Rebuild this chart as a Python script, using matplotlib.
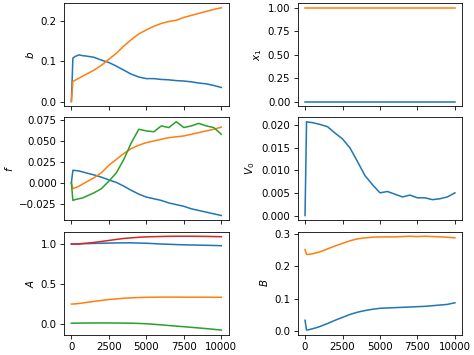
import matplotlib
matplotlib.use("Agg")
import matplotlib.pyplot as plt
from matplotlib.ticker import MaxNLocator
import numpy as np

# step axis
t = [0, 100, 250, 500, 750, 1000, 1500, 2000, 2500, 3000, 3500, 4000, 4500, 5000,
     5500, 6000, 6500, 7000, 7500, 8000, 8500, 9000, 9500, 10000]

# b
b0 = [0.0, 0.108, 0.112, 0.116, 0.114, 0.113, 0.110, 0.103, 0.097, 0.088, 0.078, 0.068, 0.061,
      0.057, 0.057, 0.055, 0.054, 0.052, 0.051, 0.049, 0.046, 0.044, 0.040, 0.035]
b1 = [0.0, 0.050, 0.053, 0.058, 0.063, 0.068, 0.078, 0.090, 0.105, 0.120, 0.138, 0.154, 0.168,
      0.178, 0.187, 0.194, 0.199, 0.202, 0.209, 0.214, 0.219, 0.224, 0.229, 0.233]

# f
f0 = [0.0, 0.015, 0.0148, 0.0142, 0.013, 0.0118, 0.0095, 0.0068, 0.0035, 0.0005, -0.004, -0.009,
      -0.0135, -0.017, -0.019, -0.021, -0.024, -0.026, -0.028, -0.031, -0.033, -0.035, -0.037, -0.039]
f1 = [0.0, -0.007, -0.006, -0.004, -0.0015, 0.001, 0.006, 0.012, 0.021, 0.028, 0.035, 0.041,
      0.045, 0.048, 0.050, 0.052, 0.054, 0.055, 0.056, 0.058, 0.060, 0.062, 0.064, 0.0665]
f2 = [0.0, -0.021, -0.020, -0.019, -0.018, -0.016, -0.012, -0.007, 0.002, 0.012, 0.028, 0.048,
      0.064, 0.062, 0.061, 0.068, 0.066, 0.073, 0.066, 0.068, 0.071, 0.068, 0.066, 0.058]

# A
A0 = [1.0, 1.0, 1.0, 1.0, 1.005, 1.005, 1.008, 1.01, 1.012, 1.014, 1.015, 1.015, 1.012, 1.01,
      1.005, 1.0, 0.997, 0.993, 0.99, 0.988, 0.986, 0.984, 0.982, 0.979]
A1 = [0.245, 0.245, 0.247, 0.252, 0.258, 0.265, 0.278, 0.29, 0.302, 0.31, 0.318, 0.323, 0.327,
      0.33, 0.331, 0.332, 0.332, 0.332, 0.331, 0.331, 0.331, 0.331, 0.330, 0.330]
A2 = [0.004, 0.004, 0.005, 0.005, 0.006, 0.006, 0.007, 0.007, 0.007, 0.006, 0.005, 0.004, 0.001,
      -0.003, -0.01, -0.017, -0.025, -0.033, -0.04, -0.048, -0.056, -0.064, -0.073, -0.082]
A3 = [1.0, 1.0, 1.0, 1.002, 1.006, 1.01, 1.02, 1.032, 1.045, 1.058, 1.07, 1.078, 1.085, 1.09,
      1.093, 1.095, 1.097, 1.098, 1.098, 1.098, 1.097, 1.096, 1.094, 1.092]

# x_1
x1_0 = [0.0] * len(t)
x1_1 = [1.0] * len(t)

# V_0
V0 = [0.0, 0.0207, 0.0206, 0.0205, 0.0203, 0.0201, 0.0196, 0.0182, 0.0169, 0.0149, 0.0119,
      0.0088, 0.0068, 0.0050, 0.0053, 0.0047, 0.0041, 0.0045, 0.0039, 0.0039, 0.0035, 0.0037,
      0.0041, 0.0050]

# B
B0 = [0.034, 0.004, 0.005, 0.008, 0.011, 0.015, 0.024, 0.034, 0.043, 0.052, 0.059, 0.064, 0.068,
      0.071, 0.072, 0.073, 0.074, 0.075, 0.076, 0.077, 0.079, 0.081, 0.083, 0.088]
B1 = [0.252, 0.237, 0.237, 0.239, 0.242, 0.245, 0.254, 0.263, 0.271, 0.279, 0.285, 0.288, 0.290,
      0.291, 0.291, 0.291, 0.292, 0.293, 0.292, 0.293, 0.292, 0.291, 0.290, 0.288]

fig, axes = plt.subplots(3, 2, figsize=(474 / 74, 355 / 74), dpi=74, sharex=True,
                         layout='constrained')

axes[0, 0].plot(t, b0)
axes[0, 0].plot(t, b1)
axes[0, 0].set_ylabel('$b$')

axes[1, 0].plot(t, f0)
axes[1, 0].plot(t, f1)
axes[1, 0].plot(t, f2)
axes[1, 0].set_ylabel('$f$')

axes[2, 0].plot(t, A0)
axes[2, 0].plot(t, A1)
axes[2, 0].plot(t, A2)
axes[2, 0].plot(t, A3)
axes[2, 0].set_ylabel('$A$')

axes[0, 1].plot(t, x1_0)
axes[0, 1].plot(t, x1_1)
axes[0, 1].set_ylabel('$x_1$')

axes[1, 1].plot(t, V0)
axes[1, 1].set_ylabel('$V_0$')

axes[2, 1].plot(t, B0)
axes[2, 1].plot(t, B1)
axes[2, 1].set_ylabel('$B$')

for ax in axes.flat:
    ax.yaxis.set_major_locator(MaxNLocator(nbins=5, steps=[1, 2, 2.5, 5, 10]))
axes[2, 0].xaxis.set_major_locator(MaxNLocator(nbins=5, steps=[1, 2, 2.5, 5, 10]))

fig.savefig('out.png', dpi=74)
